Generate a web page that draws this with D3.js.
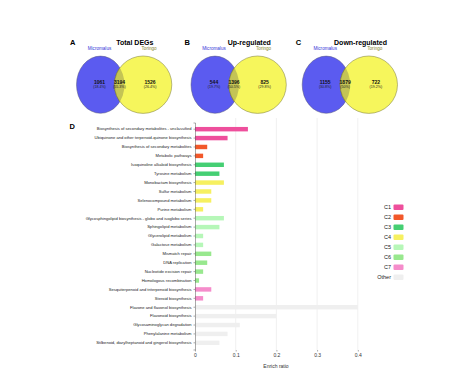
<!DOCTYPE html>
<html>
<head>
<meta charset="utf-8">
<script src="https://cdn.jsdelivr.net/npm/d3@7"></script>
<style>
  body { margin: 0; background: #fff; }
  text { font-family: "Liberation Sans", Arial, sans-serif; }
</style>
</head>
<body>
<div id="chart"></div>
<script>
// Venn panels
var vennLetters = ["A", "B", "C"];
var vennTitles = ["Total DEGs", "Up-regulated", "Down-regulated"];
var vennOnly1 = [1061, 544, 1155];
var vennBoth = [3194, 1396, 1879];
var vennOnly2 = [1526, 825, 722];
var vennPct1 = ["(18.4%)", "(19.7%)", "(30.8%)"];
var vennPctBoth = ["(55.3%)", "(50.5%)", "(50%)"];
var vennPct2 = ["(26.4%)", "(29.8%)", "(19.2%)"];
var setNames = ["Micromalus", "Toringo"];

// Enrichment bars
var pathways = [
  "Biosynthesis of secondary metabolites - unclassified",
  "Ubiquinone and other terpenoid-quinone biosynthesis",
  "Biosynthesis of secondary metabolites",
  "Metabolic pathways",
  "Isoquinoline alkaloid biosynthesis",
  "Tyrosine metabolism",
  "Monobactam biosynthesis",
  "Sulfur metabolism",
  "Selenocompound metabolism",
  "Purine metabolism",
  "Glycosphingolipid biosynthesis - globo and isoglobo series",
  "Sphingolipid metabolism",
  "Glycerolipid metabolism",
  "Galactose metabolism",
  "Mismatch repair",
  "DNA replication",
  "Nucleotide excision repair",
  "Homologous recombination",
  "Sesquiterpenoid and triterpenoid biosynthesis",
  "Steroid biosynthesis",
  "Flavone and flavonol biosynthesis",
  "Flavonoid biosynthesis",
  "Glycosaminoglycan degradation",
  "Phenylalanine metabolism",
  "Stilbenoid, diarylheptanoid and gingerol biosynthesis"
];
var enrichRatio = [0.13, 0.08, 0.03, 0.02, 0.071, 0.06, 0.071, 0.04, 0.04, 0.02,
                   0.071, 0.06, 0.02, 0.02, 0.04, 0.03, 0.02, 0.01, 0.04, 0.02,
                   0.4, 0.2, 0.11, 0.08, 0.06];
var clusterOf = ["C1", "C1", "C2", "C2", "C3", "C3", "C4", "C4", "C4", "C4",
                 "C5", "C5", "C5", "C5", "C6", "C6", "C6", "C6", "C7", "C7",
                 "Other", "Other", "Other", "Other", "Other"];
var clusters = ["C1", "C2", "C3", "C4", "C5", "C6", "C7", "Other"];
var clusterColors = ["#ee4f9c", "#f2582a", "#45cf73", "#f6f060", "#b6f7b8", "#98e88e", "#f58ccb", "#efefef"];
var xTicks = [0, 0.1, 0.2, 0.3, 0.4];

var width = 474, height = 372;
var svg = d3.select("#chart").append("svg")
    .attr("width", width)
    .attr("height", height);

var color = d3.scaleOrdinal().domain(clusters).range(clusterColors);

//Venn diagrams
var vennLeft = [100.5, 215, 326.2];
var vennGap = 42.6;
var vennCy = 84.7;

vennLetters.forEach(function(letter, i) {
    var g = svg.append("g");
    var cx1 = vennLeft[i], cx2 = vennLeft[i] + vennGap;

    g.append("text").attr("x", cx1 - 30.5).attr("y", 44.5)
        .attr("font-size", 7.5).attr("font-weight", "bold").text(letter);
    g.append("text").attr("x", (cx1 + cx2) / 2 + 13).attr("y", 44.5)
        .attr("text-anchor", "middle")
        .attr("font-size", 7).attr("font-weight", "bold").text(vennTitles[i]);

    g.append("ellipse").attr("cx", cx1).attr("cy", vennCy)
        .attr("rx", 24).attr("ry", 28.6)
        .attr("fill", "#5b5bf0").attr("stroke", "#55557a").attr("stroke-width", 0.5);
    g.append("circle").attr("cx", cx2).attr("cy", vennCy).attr("r", 28.7)
        .attr("fill", "#f6f65c")
        .attr("stroke", "#77773a").attr("stroke-width", 0.5);

    //intersection, clipped to the left set
    var clipId = "clip" + i;
    g.append("clipPath").attr("id", clipId)
        .append("ellipse").attr("cx", cx1).attr("cy", vennCy).attr("rx", 24).attr("ry", 28.6);
    g.append("circle").attr("cx", cx2).attr("cy", vennCy).attr("r", 28.7)
        .attr("clip-path", "url(#" + clipId + ")")
        .attr("fill", "#c4c455").attr("stroke", "#6f6f35").attr("stroke-width", 0.5);

    g.append("text").attr("x", cx1 - 1).attr("y", 50.3).attr("text-anchor", "middle")
        .attr("font-size", 4.6).attr("fill", "#3535d8").text(setNames[0]);
    g.append("text").attr("x", cx2 + 6).attr("y", 50.3).attr("text-anchor", "middle")
        .attr("font-size", 4.6).attr("fill", "#86862c").text(setNames[1]);

    var spots = [
        [cx1 - 1, vennOnly1[i], vennPct1[i]],
        [(cx1 + 24 + cx2 - 28.7) / 2, vennBoth[i], vennPctBoth[i]],
        [cx2 + 7, vennOnly2[i], vennPct2[i]]
    ];
    spots.forEach(function(s) {
        g.append("text").attr("x", s[0]).attr("y", 84).attr("text-anchor", "middle")
            .attr("font-size", 5).attr("font-weight", "bold").attr("fill", "#111").text(s[1]);
        g.append("text").attr("x", s[0]).attr("y", 88.3).attr("text-anchor", "middle")
            .attr("font-size", 3.6).attr("fill", "#222").text(s[2]);
    });
});

//Bar chart
var x = d3.scaleLinear().domain([0, 0.4]).range([195, 357.8]);
var y = d3.scaleBand().domain(pathways).range([122.5, 349.5]).padding(0.5);

svg.append("text").attr("x", 69.5).attr("y", 129)
    .attr("font-size", 7.5).attr("font-weight", "bold").text("D");

svg.append("g").selectAll("line").data(xTicks.slice(1)).enter().append("line")
    .attr("x1", function(d) { return x(d); }).attr("x2", function(d) { return x(d); })
    .attr("y1", 118).attr("y2", 350)
    .attr("stroke", "#e6e6e6").attr("stroke-width", 0.6);

svg.append("g").selectAll("rect").data(pathways).enter().append("rect")
    .attr("x", x(0))
    .attr("y", function(d) { return y(d); })
    .attr("width", function(d, i) { return x(enrichRatio[i]) - x(0); })
    .attr("height", y.bandwidth())
    .attr("fill", function(d, i) { return color(clusterOf[i]); });

var yAxis = svg.append("g").attr("transform", "translate(" + x(0) + ",0)")
    .call(d3.axisLeft(y).tickSize(1.5).tickPadding(2));
yAxis.select(".domain").attr("stroke", "#555").attr("stroke-width", 0.5);
yAxis.selectAll(".tick line").attr("stroke", "#555").attr("stroke-width", 0.5);
yAxis.selectAll("text").attr("font-size", 4.1).attr("fill", "#222")
    .attr("font-family", "'Liberation Sans', Arial, sans-serif");

var xAxis = svg.append("g").attr("transform", "translate(0,350)")
    .call(d3.axisBottom(x).tickValues(xTicks).tickSize(1.5).tickPadding(2)
        .tickFormat(function(d) { return d; }));
xAxis.select(".domain").remove();
xAxis.selectAll(".tick line").attr("stroke", "#555").attr("stroke-width", 0.5);
xAxis.selectAll("text").attr("font-size", 5).attr("fill", "#333")
    .attr("font-family", "'Liberation Sans', Arial, sans-serif");

svg.append("text").attr("x", 276).attr("y", 368).attr("text-anchor", "middle")
    .attr("font-size", 5).attr("fill", "#333").text("Enrich ratio");

//Legend
var legend = svg.append("g").selectAll("g").data(clusters).enter().append("g")
    .attr("transform", function(d, i) { return "translate(0," + (207.3 + i * 10) + ")"; });
legend.append("rect").attr("x", 393.5).attr("y", -2.8).attr("width", 10).attr("height", 5.6)
    .attr("rx", 1).attr("fill", function(d) { return color(d); });
legend.append("text").attr("x", 391).attr("y", 2).attr("text-anchor", "end")
    .attr("font-size", 5.5).attr("fill", "#222").text(function(d) { return d; });
</script>
</body>
</html>
